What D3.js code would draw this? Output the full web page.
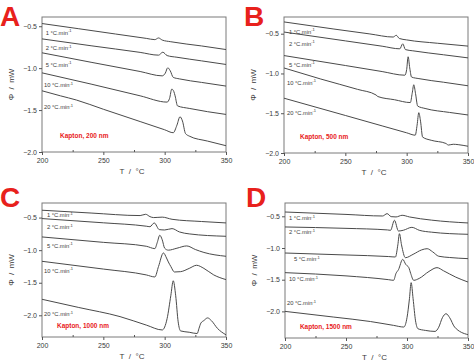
<!DOCTYPE html>
<html>
<head>
<meta charset="utf-8">
<script src="https://d3js.org/d3.v7.min.js"></script>
<style>
  body { margin: 0; background: #fff; }
  svg { display: block; font-family: "Liberation Sans", Arial, sans-serif; }
</style>
</head>
<body>
<svg id="chart" width="474" height="361"></svg>
<script>
// heating rates (°C/min) shown on every panel
var rates = ['1', '2', '5', '10', '20'];
var xTicks = [200, 250, 300, 350];
var yTicks = [-0.5, -1.0, -1.5, -2.0];

// Panel A - Kapton 200 nm, [T, phi] pairs
var pa1 = [[200,-0.468],[230,-0.53],[260,-0.593],[285,-0.645],[292,-0.66],[295,-0.64],[298,-0.665],[305,-0.685],[330,-0.735],[350,-0.778]];
var pa2 = [[200,-0.651],[240,-0.733],[280,-0.812],[295,-0.845],[298.5,-0.81],[302,-0.85],[310,-0.87],[330,-0.913],[350,-0.956]];
var pa3 = [[200,-0.817],[240,-0.93],[280,-1.04],[298,-1.092],[300.5,-1.06],[302.5,-0.996],[304.5,-1.03],[307,-1.11],[312,-1.128],[330,-1.17],[350,-1.214]];
var pa4 = [[200,-1.056],[240,-1.19],[280,-1.33],[302,-1.405],[304,-1.36],[305.8,-1.25],[307.5,-1.28],[308.5,-1.33],[310.5,-1.45],[320,-1.48],[350,-1.552]];
var pa5 = [[200,-1.27],[215,-1.33],[228,-1.38],[250,-1.49],[280,-1.637],[300,-1.735],[307,-1.77],[310,-1.68],[312.5,-1.58],[314.5,-1.63],[317,-1.78],[320,-1.81],[335,-1.87],[350,-1.925]];

// Panel B - Kapton 500 nm
var pb1 = [[200,-0.352],[240,-0.44],[270,-0.503],[289,-0.542],[291.5,-0.52],[294,-0.56],[300,-0.578],[325,-0.62],[350,-0.656]];
var pb2 = [[200,-0.479],[250,-0.59],[280,-0.657],[294.4,-0.69],[296.8,-0.627],[299,-0.7],[305,-0.715],[330,-0.765],[350,-0.804]];
var pb3 = [[200,-0.775],[250,-0.9],[280,-0.976],[298.5,-1.022],[300,-0.95],[301.2,-0.79],[302.5,-0.93],[304,-1.045],[310,-1.065],[330,-1.11],[350,-1.155]];
var pb4 = [[200,-0.931],[230,-1.07],[260,-1.2],[275,-1.27],[276.5,-1.29],[290,-1.33],[303,-1.366],[304.5,-1.25],[305.8,-1.142],[307.2,-1.25],[309,-1.41],[315,-1.44],[335,-1.49],[350,-1.522]];
var pb5 = [[200,-1.311],[250,-1.528],[280,-1.659],[300,-1.746],[307,-1.776],[308.5,-1.65],[309.9,-1.493],[311.3,-1.6],[313,-1.8],[320,-1.84],[332,-1.88],[334,-1.9],[338,-1.89],[342,-1.895],[350,-1.915]];

// Panel C - Kapton 1000 nm
var pc1 = [[200,-0.387],[240,-0.43],[280,-0.469],[284.5,-0.449],[288,-0.485],[291,-0.5],[298,-0.493],[306,-0.526],[330,-0.56],[350,-0.582]];
var pc2 = [[200,-0.515],[250,-0.58],[285,-0.632],[288,-0.64],[291.5,-0.582],[295.6,-0.684],[300,-0.69],[306,-0.669],[312,-0.72],[320,-0.75],[350,-0.787]];
var pc3 = [[200,-0.797],[250,-0.88],[285,-0.94],[292,-0.976],[294,-0.88],[296,-0.771],[298,-0.84],[300,-0.97],[303,-1.0],[310,-0.97],[318,-0.935],[325,-0.99],[332,-1.035],[350,-1.094]];
var pc4 = [[200,-1.171],[250,-1.29],[285,-1.38],[292,-1.411],[295,-1.25],[299,-1.043],[301.5,-1.12],[303,-1.181],[305,-1.25],[308,-1.335],[313,-1.33],[320,-1.28],[326,-1.232],[332,-1.28],[340,-1.38],[350,-1.452]];
var pc5 = [[200,-1.754],[230,-1.88],[263.6,-2.02],[285,-2.15],[298,-2.225],[302,-2.05],[305,-1.7],[307,-1.47],[309,-1.7],[311,-2.1],[313,-2.24],[320,-2.26],[326.5,-2.28],[328,-2.2],[329.5,-2.12],[332,-2.08],[335,-2.04],[338,-2.08],[343,-2.2],[350,-2.3]];

// Panel D - Kapton 1500 nm
var pd1 = [[200,-0.432],[250,-0.47],[280,-0.495],[283.7,-0.458],[287,-0.505],[291,-0.51],[296,-0.484],[302,-0.51],[320,-0.56],[350,-0.605]];
var pd2 = [[200,-0.668],[250,-0.69],[284,-0.715],[286.5,-0.721],[289.7,-0.563],[293,-0.732],[297,-0.72],[304,-0.674],[310,-0.72],[320,-0.75],[350,-0.784]];
var pd3 = [[200,-1.079],[250,-1.11],[285,-1.135],[290.5,-1.142],[292.5,-0.95],[293.8,-0.774],[295.5,-0.95],[298.7,-1.153],[305,-1.1],[312,-1.03],[316.5,-1.011],[321,-1.06],[326,-1.13],[335,-1.15],[350,-1.168]];
var pd4 = [[200,-1.389],[250,-1.44],[285,-1.5],[289,-1.51],[291,-1.4],[293,-1.342],[296.5,-1.179],[299,-1.26],[301.5,-1.31],[303,-1.4],[305.5,-1.51],[310,-1.48],[318,-1.37],[324.6,-1.31],[330,-1.36],[340,-1.46],[350,-1.537]];
var pd5 = [[200,-2.0],[240,-2.09],[270,-2.16],[289,-2.221],[297.4,-2.247],[300,-2.1],[302,-1.8],[303.4,-1.547],[305,-1.8],[307,-2.15],[309,-2.274],[315,-2.3],[323,-2.316],[326,-2.25],[329,-2.1],[332,-2.037],[335,-2.1],[339,-2.247],[350,-2.368]];

// where the rate labels sit, in data units [T, phi]
var labA = [[203,-0.58],[203,-0.762],[203,-0.96],[201.6,-1.202],[201.6,-1.464]];
var labB = [[204,-0.475],[204,-0.626],[204,-0.891],[202.4,-1.118],[202.4,-1.496]];
var labC = [[204,-0.465],[204,-0.649],[204,-0.936],[201.6,-1.319],[201.6,-1.983]];
var labD = [[203.3,-0.527],[203.3,-0.748],[207.3,-1.179],[203.3,-1.495],[201.6,-1.874]];

var panels = [
  { letter: 'A', name: 'Kapton, 200 nm', curves: [pa1, pa2, pa3, pa4, pa5], labels: labA, note: [214.7, -1.81],
    box: [42, 226, 17, 152], dom: [-2.0, -0.39], lx: 0, ly: 25.5 },
  { letter: 'B', name: 'Kapton, 500 nm', curves: [pb1, pb2, pb3, pb4, pb5], labels: labB, note: [213, -1.80],
    box: [284, 468, 17, 153], dom: [-2.0, -0.29], lx: 244, ly: 25.5 },
  { letter: 'C', name: 'Kapton, 1000 nm', curves: [pc1, pc2, pc3, pc4, pc5], labels: labC, note: [212.2, -2.167],
    box: [42, 226, 203, 337], dom: [-2.333, -0.276], lx: 0, ly: 207 },
  { letter: 'D', name: 'Kapton, 1500 nm', curves: [pd1, pd2, pd3, pd4, pd5], labels: labD, note: [212.2, -2.249],
    box: [285, 468, 203, 338], dom: [-2.42, -0.29], lx: 246, ly: 207 }
];

var svg = d3.select('#chart');
var red = '#e8211c';
var ink = '#3a3a3a';

panels.forEach(function(p) {
  var x = d3.scaleLinear().domain([200, 350]).range([p.box[0], p.box[1]]);
  var y = d3.scaleLinear().domain(p.dom).range([p.box[3], p.box[2]]);
  var g = svg.append('g');

  // frame
  g.append('rect')
    .attr('x', p.box[0]).attr('y', p.box[2])
    .attr('width', p.box[1] - p.box[0]).attr('height', p.box[3] - p.box[2])
    .attr('fill', 'none').attr('stroke', '#7a7a7a').attr('stroke-width', 1);

  var xAxis = g.append('g')
    .attr('transform', 'translate(0,' + p.box[3] + ')')
    .call(d3.axisBottom(x).tickValues(xTicks).tickSize(3).tickPadding(3).tickFormat(d3.format('d')));
  var xMinor = g.append('g')
    .attr('transform', 'translate(0,' + p.box[3] + ')')
    .call(d3.axisBottom(x).tickValues([225, 275, 325]).tickSize(-2).tickFormat(''));
  var yAxis = g.append('g')
    .attr('transform', 'translate(' + p.box[0] + ',0)')
    .call(d3.axisLeft(y).tickValues(yTicks).tickSize(3).tickPadding(2).tickFormat(d3.format('.1f')));

  [xAxis, xMinor, yAxis].forEach(function(a) {
    a.select('.domain').remove();
    a.selectAll('line').attr('stroke', '#555');
    a.selectAll('text').attr('fill', ink).style('font-size', '7px');
  });

  g.append('text')
    .attr('x', (p.box[0] + p.box[1]) / 2 - 2).attr('y', p.box[3] + 22)
    .attr('text-anchor', 'middle').attr('fill', ink)
    .style('font-size', '8px').attr('xml:space', 'preserve')
    .text('T  /  °C');
  g.append('text')
    .attr('transform', 'translate(' + (p.box[0] - 28) + ',' + ((p.box[2] + p.box[3]) / 2) + ') rotate(-90)')
    .attr('text-anchor', 'middle').attr('fill', ink)
    .style('font-size', '8px').attr('xml:space', 'preserve')
    .text('Φ  /  mW');

  var line = d3.line()
    .x(function(d) { return x(d[0]); })
    .y(function(d) { return y(d[1]); })
    .curve(d3.curveMonotoneX);

  g.selectAll('path.curve')
    .data(p.curves)
    .enter()
    .append('path')
    .attr('class', 'curve')
    .attr('d', line)
    .attr('fill', 'none')
    .attr('stroke', '#4a4a4a')
    .attr('stroke-width', 1);

  var lab = g.selectAll('text.rate')
    .data(p.labels)
    .enter()
    .append('text')
    .attr('class', 'rate')
    .attr('x', function(d) { return x(d[0]); })
    .attr('y', function(d) { return y(d[1]) + 2; })
    .attr('fill', ink)
    .style('font-size', '5.8px');
  lab.append('tspan').text(function(d, i) { return rates[i] + ' °C.min'; });
  lab.append('tspan').attr('dy', -2.5).style('font-size', '4px').text('-1');

  g.append('text')
    .attr('x', x(p.note[0])).attr('y', y(p.note[1]) + 2)
    .attr('fill', red).style('font-size', '6.5px').style('font-weight', 'bold')
    .text(p.name);

  g.append('text')
    .attr('x', p.lx).attr('y', p.ly)
    .attr('fill', red).style('font-size', '28px').style('font-weight', 'bold')
    .text(p.letter);
});
</script>
</body>
</html>
